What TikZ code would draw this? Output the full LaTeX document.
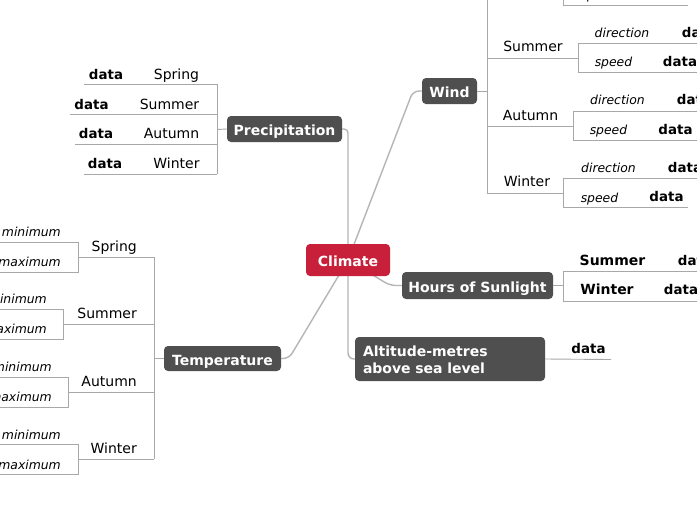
\documentclass[tikz,border=0pt]{standalone}
\usepackage{fontspec}
\setmainfont{DejaVu Sans}
\usetikzlibrary{backgrounds}
\definecolor{topicgray}{HTML}{4F4F4F}
\definecolor{rootred}{HTML}{C8203A}
\definecolor{linegray}{HTML}{A8A8A8}
\definecolor{conngray}{HTML}{B5B5B5}
\begin{document}
\begin{tikzpicture}[x=1pt,y=-1pt,
 topic/.style={fill=topicgray,text=white,font=\bfseries\fontsize{14}{17}\selectfont,rounded corners=4pt,inner sep=0pt},
 root/.style={topic,fill=rootred},
 sub/.style={font=\fontsize{14}{16}\selectfont,inner sep=0pt,text height=10pt,text depth=3pt},
 subb/.style={font=\bfseries\fontsize{14}{16}\selectfont,inner sep=0pt,text height=10pt,text depth=3pt},
 ital/.style={font=\itshape\fontsize{12.4}{14}\selectfont,inner sep=0pt,text height=9pt,text depth=3pt},
 dat/.style={font=\bfseries\fontsize{13.4}{15}\selectfont,inner sep=0pt,text height=10pt,text depth=3pt},
 uline/.style={draw=linegray,line width=0.9pt},
 conn/.style={draw=conngray,line width=1.4pt,rounded corners=6pt},
]
\useasboundingbox (0,0) rectangle (697,520);

% main topics
\node[root,minimum width=84pt,minimum height=32pt,text height=13pt,text depth=0pt] (climate) at (348,260) {Climate};
\node[topic,minimum width=55pt,minimum height=26pt,text height=13pt,text depth=0pt] (wind) at (449.5,91) {Wind};
\node[topic,minimum width=115pt,minimum height=26pt,text height=13pt,text depth=0pt] (prec) at (284.5,129) {Precipitation};
\node[topic,minimum width=151pt,minimum height=27pt,text height=13pt,text depth=0pt] (sun) at (477.5,285.5) {Hours of Sunlight};
\node[topic,minimum width=117pt,minimum height=25pt,text height=13pt,text depth=0pt] (temp) at (222.5,358.5) {Temperature};
\node[topic,minimum width=190pt,minimum height=44pt,text width=174pt,align=left,text depth=15pt] (alt) at (450,359) {Altitude-metres\\above sea level};

\begin{pgfonlayer}{background}
\fill[white] (0,0) rectangle (697,520);
\draw[conn] (climate.center) -- (413,91) -- (wind.west);
\draw[conn,rounded corners=4pt] (climate.center) -- (348,129) -- (prec.east);
\draw[conn] (climate.center) -- (289,358.5) -- (temp.east);
\draw[conn] (climate.center) -- (390,285.5) -- (sun.west);
\draw[conn] (climate.center) -- (348,359) -- (alt.west);
\end{pgfonlayer}

% Precipitation branch
\coordinate (pb) at (217,129.5);
\draw[uline] (prec.west) -- (pb);
\draw[uline] (217,84) -- (217,174);
\draw[uline] (84,84) -- (217,84);
\draw[uline] (70,114) -- (217,114);
\draw[uline] (75,144) -- (217,144);
\draw[uline] (84,174) -- (217,174);
\node[dat] (pd1) at (106,76) {data};
\node[sub] (ps1) at (176.5,76) {Spring};
\node[dat] (pd2) at (91.5,106) {data};
\node[sub] (ps2) at (169.5,106) {Summer};
\node[dat] (pd3) at (96,135) {data};
\node[sub] (ps3) at (171.5,135) {Autumn};
\node[dat] (pd4) at (105,165) {data};
\node[sub] (ps4) at (176.5,165) {Winter};

% Temperature branch
\coordinate (tb) at (154,358.5);
\draw[uline] (temp.west) -- (tb);
\draw[uline] (154,257) -- (154,459);
\draw[uline] (78,257) -- (154,257);
\draw[uline] (-10,242) -- (78,242) -- (78,272) -- (-10,272);
\draw[uline] (63,324) -- (154,324);
\draw[uline] (-10,309) -- (63,309) -- (63,339) -- (-10,339);
\draw[uline] (68,392) -- (154,392);
\draw[uline] (-10,377) -- (68,377) -- (68,407) -- (-10,407);
\draw[uline] (78,459) -- (154,459);
\draw[uline] (-10,444) -- (78,444) -- (78,474) -- (-10,474);
\node[sub,anchor=east] (ts1) at (137,248) {Spring};
\node[sub,anchor=east] (ts2) at (137,315) {Summer};
\node[sub,anchor=east] (ts3) at (137,383) {Autumn};
\node[sub,anchor=east] (ts4) at (137,450) {Winter};
\node[ital,anchor=east] (tmin1) at (61,233) {minimum};
\node[ital,anchor=east] (tmax1) at (61,263) {maximum};
\node[ital,anchor=east] (tmin2) at (47,300) {minimum};
\node[ital,anchor=east] (tmax2) at (47,330) {maximum};
\node[ital,anchor=east] (tmin3) at (52,368) {minimum};
\node[ital,anchor=east] (tmax3) at (52,398) {maximum};
\node[ital,anchor=east] (tmin4) at (61,436) {minimum};
\node[ital,anchor=east] (tmax4) at (61,466) {maximum};

% Wind branch
\coordinate (wb) at (487,91);
\draw[uline] (wind.east) -- (wb);
\draw[uline] (487,-10) -- (487,193);
\draw[uline] (563,-10) -- (563,5) -- (688,5);
\node[ital] (wsp0) at (599.5,-4) {speed};
\draw[uline] (487,58) -- (578,58);
\draw[uline] (710,43) -- (578,43) -- (578,72) -- (710,72);
\node[sub] (ws2) at (533,48) {Summer};
\node[ital] (wdir2) at (622,34) {direction};
\node[dat] (wdd2) at (699,34) {data};
\node[ital] (wsp2) at (613.5,63) {speed};
\node[dat] (wsd2) at (680,63) {data};
\draw[uline] (487,126) -- (573,126);
\draw[uline] (710,111) -- (573,111) -- (573,140) -- (697,140);
\node[sub] (ws3) at (530.5,117) {Autumn};
\node[ital] (wdir3) at (617.5,101) {direction};
\node[dat] (wdd3) at (694,101) {data};
\node[ital] (wsp3) at (608.5,131) {speed};
\node[dat] (wsd3) at (675.5,131) {data};
\draw[uline] (487,193) -- (563,193);
\draw[uline] (710,178) -- (563,178) -- (563,207) -- (688,207);
\node[sub] (ws4) at (527,183) {Winter};
\node[ital] (wdir4) at (608.5,169) {direction};
\node[dat] (wdd4) at (685,169) {data};
\node[ital] (wsp4) at (599.5,199) {speed};
\node[dat] (wsd4) at (666.5,198) {data};

% Hours of Sunlight branch
\coordinate (sb) at (563,285.5);
\draw[uline] (sun.east) -- (sb);
\draw[uline] (710,271) -- (563,271) -- (563,301) -- (710,301);
\node[subb] (ss1) at (612.5,262) {Summer};
\node[dat] (ssd1) at (695,262) {data};
\node[subb] (ss2) at (607,291) {Winter};
\node[dat] (ssd2) at (681,291) {data};

% Altitude branch
\coordinate (ae) at (611,359.5);
\draw[uline] (alt.east) -- (ae);
\node[dat] (ad) at (588.5,350) {data};
\end{tikzpicture}
\end{document}
